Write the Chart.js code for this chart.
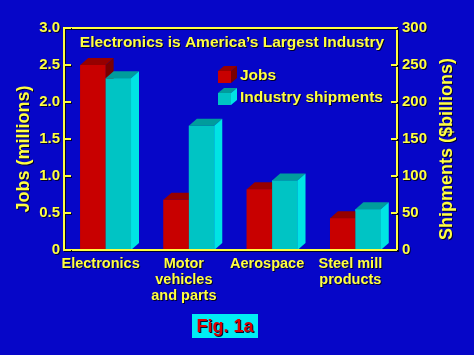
<!DOCTYPE html>
<html>
<head>
<meta charset="utf-8">
<script src="https://cdn.jsdelivr.net/npm/chart.js@4"></script>
<style>
  html, body { margin: 0; padding: 0; background: #0606c8; }
  #wrap { width: 474px; height: 355px; }
</style>
</head>
<body>
<div id="wrap"><canvas id="chart" width="474" height="355"></canvas></div>
<script>
// data
const categories = ["Electronics", ["Motor", "vehicles", "and parts"], "Aerospace", ["Steel mill", "products"]];
const jobs = [2.5, 0.68, 0.82, 0.43];       // millions
const shipments = [232, 168, 94, 55];       // $billions
const jobsTicks = [0, 0.5, 1.0, 1.5, 2.0, 2.5, 3.0];
const shipTicks = [0, 50, 100, 150, 200, 250, 300];

const YELLOW = "#ffff40";
const FONT = "'Liberation Sans', Arial, sans-serif";
const DX = 8, DY = 7;

// colours: front / top / side
const faces = [
  ["#c80000", "#960000", "#7a0000"],
  ["#00c4c4", "#009c9c", "#00e4e4"]
];

function box(ctx, l, r, t, b, c, dx, dy) {
  ctx.fillStyle = c[0];
  ctx.fillRect(l, t, r - l, b - t);
  ctx.fillStyle = c[1];
  ctx.beginPath();
  ctx.moveTo(l, t); ctx.lineTo(l + dx, t - dy); ctx.lineTo(r + dx, t - dy); ctx.lineTo(r, t);
  ctx.closePath(); ctx.fill();
  ctx.fillStyle = c[2];
  ctx.beginPath();
  ctx.moveTo(r, t); ctx.lineTo(r + dx, t - dy); ctx.lineTo(r + dx, b - dy); ctx.lineTo(r, b);
  ctx.closePath(); ctx.fill();
}

function shadowOn(ctx) {
  ctx.shadowColor = "rgba(0,0,40,0.95)";
  ctx.shadowOffsetX = 1;
  ctx.shadowOffsetY = 1;
  ctx.shadowBlur = 0;
}
function shadowOff(ctx) {
  ctx.shadowColor = "rgba(0,0,0,0)";
  ctx.shadowOffsetX = 0;
  ctx.shadowOffsetY = 0;
}

const slidePlugin = {
  id: "slide",
  beforeDraw(chart) {
    shadowOn(chart.ctx);   // tick labels get the dark drop shadow
  },
  beforeDatasetsDraw(chart) {
    shadowOff(chart.ctx);
  },
  afterDatasetsDraw(chart) {
    const ctx = chart.ctx;
    const a = chart.chartArea;
    ctx.save();
    shadowOff(ctx);
    // 3D boxes, jobs first so the shipments bar hides its side
    chart.data.datasets.forEach((ds, di) => {
      const meta = chart.getDatasetMeta(di);
      meta.data.forEach(bar => {
        const p = bar.getProps(["x", "y", "width", "base"], true);
        box(ctx, p.x - p.width / 2, p.x + p.width / 2, p.y, p.base, faces[di], DX, DY);
      });
    });

    // frame + inward ticks
    shadowOn(ctx);
    ctx.strokeStyle = YELLOW;
    ctx.lineWidth = 2;
    ctx.strokeRect(a.left, a.top, a.right - a.left, a.bottom - a.top);
    ctx.beginPath();
    chart.scales.y.ticks.forEach(t => {
      const py = chart.scales.y.getPixelForValue(t.value);
      ctx.moveTo(a.left, py); ctx.lineTo(a.left + 7, py);
    });
    chart.scales.y2.ticks.forEach(t => {
      const py = chart.scales.y2.getPixelForValue(t.value);
      ctx.moveTo(a.right - 6, py); ctx.lineTo(a.right, py);
    });
    ctx.stroke();

    // title inside the plot
    ctx.fillStyle = YELLOW;
    ctx.textBaseline = "middle";
    ctx.textAlign = "center";
    ctx.font = "bold 15.5px " + FONT;
    ctx.fillText("Electronics is America\u2019s Largest Industry", 232, 43);

    // legend
    ctx.textAlign = "left";
    chart.data.datasets.forEach((ds, di) => {
      const yMid = 76 + di * 22;
      shadowOff(ctx);
      box(ctx, 218, 231, yMid - 5, yMid + 7, faces[di], 6, 5);
      shadowOn(ctx);
      ctx.fillStyle = YELLOW;
      ctx.fillText(ds.label, 240, yMid);
    });

    // axis titles
    ctx.font = "bold 18px " + FONT;
    ctx.textAlign = "center";
    [[24, "Jobs (millions)"], [447, "Shipments ($billions)"]].forEach(([x, txt]) => {
      ctx.save();
      ctx.translate(x, 149);
      ctx.rotate(-Math.PI / 2);
      ctx.fillText(txt, 0, 0);
      ctx.restore();
    });

    // figure tag
    shadowOff(ctx);
    ctx.fillStyle = "#00eef4";
    ctx.fillRect(192, 314, 66, 24);
    shadowOn(ctx);
    ctx.fillStyle = "#dd0000";
    ctx.fillText("Fig. 1a", 225, 327);
    ctx.restore();
  }
};

new Chart(document.getElementById("chart"), {
  type: "bar",
  data: {
    labels: categories,
    datasets: [
      { label: "Jobs", data: jobs, yAxisID: "y", backgroundColor: faces[0][0] },
      { label: "Industry shipments", data: shipments, yAxisID: "y2", backgroundColor: faces[1][0] }
    ]
  },
  options: {
    responsive: false,
    devicePixelRatio: 1,
    animation: false,
    categoryPercentage: 0.61,
    barPercentage: 1.0,
    layout: { padding: { top: 28 } },
    plugins: {
      legend: { display: false },
      title: { display: false },
      tooltip: { enabled: false }
    },
    scales: {
      x: {
        grid: { display: false, drawTicks: false },
        border: { display: false },
        afterFit: s => { s.height = 105; },
        ticks: {
          color: YELLOW,
          padding: 6,
          labelOffset: -5,
          maxRotation: 0,
          font: { family: FONT, size: 14.5, weight: "bold", lineHeight: 1.1 }
        }
      },
      y: {
        position: "left",
        min: 0, max: 3,
        afterBuildTicks: s => { s.ticks = jobsTicks.map(v => ({ value: v })); },
        afterFit: s => { s.width = 64; },
        grid: { display: false, drawTicks: false },
        border: { display: false },
        ticks: {
          color: YELLOW,
          padding: 4,
          font: { family: FONT, size: 15, weight: "bold" },
          callback: v => v === 0 ? "0" : v.toFixed(1)
        }
      },
      y2: {
        position: "right",
        min: 0, max: 300,
        afterBuildTicks: s => { s.ticks = shipTicks.map(v => ({ value: v })); },
        afterFit: s => { s.width = 77; },
        grid: { display: false, drawTicks: false },
        border: { display: false },
        ticks: {
          color: YELLOW,
          padding: 5,
          font: { family: FONT, size: 15, weight: "bold" },
          callback: v => String(v)
        }
      }
    }
  },
  plugins: [slidePlugin]
});
</script>
</body>
</html>
